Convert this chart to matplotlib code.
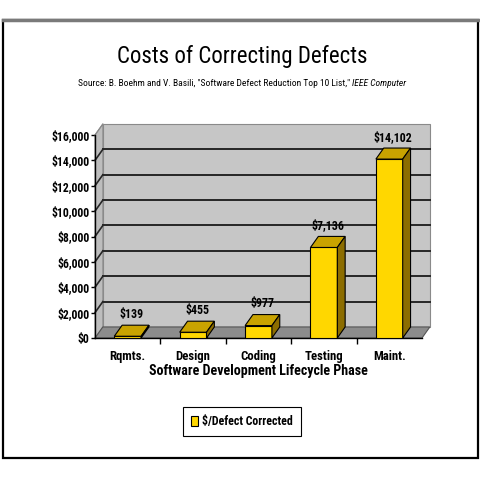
import matplotlib
matplotlib.use('Agg')
import matplotlib.pyplot as plt
from matplotlib import font_manager
from matplotlib.patches import Polygon, Rectangle, Patch
from matplotlib.lines import Line2D

# ---------------- data ----------------
categories = ['Rqmts.', 'Design', 'Coding', 'Testing', 'Maint.']
costs = [139, 455, 977, 7136, 14102]
value_labels = ['$139', '$455', '$977', '$7,136', '$14,102']
y_ticks = [0, 2000, 4000, 6000, 8000, 10000, 12000, 14000, 16000]
y_tick_labels = ['$0', '$2,000', '$4,000', '$6,000', '$8,000', '$10,000',
                 '$12,000', '$14,000', '$16,000']
series_name = '$/Defect Corrected'
title_text = 'Costs of Correcting Defects'
subtitle_plain = 'Source: B. Boehm and V. Basili, "Software Defect Reduction Top 10 List," '
subtitle_italic = 'IEEE Computer'
x_label = 'Software Development Lifecycle Phase'


# ---------------- fonts ----------------
def pick_condensed():
    prefs = ['Liberation Sans Narrow', 'Arial Narrow', 'Roboto Condensed',
             'Open Sans Condensed', 'Noto Sans', 'DejaVu Sans', 'Open Sans',
             'Roboto', 'Inter', 'Lato']
    cands = set()
    for f in font_manager.fontManager.ttflist:
        st = f.stretch
        lname = f.name.lower()
        cond = ('narrow' in lname or 'condensed' in lname or
                st in ('condensed', 'semi-condensed', 'extra-condensed', 'ultra-condensed') or
                (isinstance(st, (int, float)) and st < 500))
        if cond:
            cands.add(f.name)
    for p in prefs:
        if p in cands:
            return p, True
    if cands:
        return sorted(cands)[0], True
    return 'Liberation Sans', False


NARROW, HAS_COND = pick_condensed()
FAM = [NARROW, 'DejaVu Sans']
plt.rcParams['font.family'] = FAM
if HAS_COND:
    plt.rcParams['font.stretch'] = 'condensed'
K = 1.0 if HAS_COND else 0.82   # size factor when no narrow face exists

FRONT = '#FFD700'
TOP = '#C9A300'
SIDE = '#8C6D00'
WALL = '#C6C6C6'
SIDEWALL = '#BDBDBD'
FLOOR = '#8C8C8C'
GRID = '#262626'
DX = 0.12      # depth offset in category units
DY = 870       # depth offset in value units
BAR_W = 0.41

W, H = 480, 480
fig = plt.figure(figsize=(W / 100, H / 100), dpi=100)
fig.patch.set_facecolor('white')

# outer frame
fig.add_artist(Rectangle((3 / W, 1 - 458 / H), 475 / W, 438 / H,
                         transform=fig.transFigure, fill=False,
                         ec='black', lw=1.6))
fig.add_artist(Line2D([3 / W, 478 / W], [1 - 20 / H, 1 - 20 / H],
                      transform=fig.transFigure, color='#7a7a7a', lw=2.5))

ax = fig.add_axes([95 / W, 1 - 338 / H, 327 / W, 203 / H])
ax.set_xlim(-0.5, len(categories) - 0.5)
ax.set_ylim(y_ticks[0], y_ticks[-1])
ax.set_facecolor('none')
x0, x1 = -0.5, len(categories) - 0.5
ytop = y_ticks[-1]

# walls and floor
ax.add_patch(Polygon([(x0 + DX, DY), (x1 + DX, DY), (x1 + DX, ytop + DY), (x0 + DX, ytop + DY)],
                     closed=True, fc=WALL, ec='#8a8a8a', lw=0.8, zorder=0, clip_on=False))
ax.add_patch(Polygon([(x0, 0), (x0 + DX, DY), (x0 + DX, ytop + DY), (x0, ytop)],
                     closed=True, fc=SIDEWALL, ec='#8a8a8a', lw=0.8, zorder=0, clip_on=False))
ax.add_patch(Polygon([(x0, 0), (x1, 0), (x1 + DX, DY), (x0 + DX, DY)],
                     closed=True, fc=FLOOR, ec='#555555', lw=0.8, zorder=1, clip_on=False))
for yv in y_ticks[1:-1]:
    ax.add_line(Line2D([x0 + DX, x1 + DX], [yv + DY, yv + DY], color=GRID, lw=1.4,
                       zorder=2, clip_on=False))
    ax.add_line(Line2D([x0, x0 + DX], [yv, yv + DY], color=GRID, lw=1.2,
                       zorder=2, clip_on=False))
ax.add_line(Line2D([x0, x0 + DX], [ytop, ytop + DY], color='#8a8a8a', lw=0.8,
                   zorder=2, clip_on=False))

# bars
xs = list(range(len(categories)))
ax.bar(xs, costs, width=BAR_W, color=FRONT, edgecolor='black', lw=0.8, zorder=5)
for xi, v, lbl in zip(xs, costs, value_labels):
    l, r = xi - BAR_W / 2, xi + BAR_W / 2
    ax.add_patch(Polygon([(l, v), (r, v), (r + DX, v + DY), (l + DX, v + DY)],
                         closed=True, fc=TOP, ec='black', lw=0.8, zorder=5, clip_on=False))
    ax.add_patch(Polygon([(r, 0), (r + DX, DY), (r + DX, v + DY), (r, v)],
                         closed=True, fc=SIDE, ec='black', lw=0.8, zorder=5, clip_on=False))
    ax.annotate(lbl, (xi + DX / 2, v + DY), xytext=(0, 3), textcoords='offset points',
                ha='center', va='bottom', fontsize=8.6 * K, fontweight='bold',
                color='black', zorder=6, annotation_clip=False)

# axes styling
for s in ('top', 'right'):
    ax.spines[s].set_visible(False)
for s in ('left', 'bottom'):
    ax.spines[s].set_color('black')
    ax.spines[s].set_linewidth(1.0)
    ax.spines[s].set_zorder(3)
ax.set_yticks(y_ticks, y_tick_labels)
ax.tick_params(axis='y', length=3, width=1, pad=1, labelsize=8.5 * K)
for t in ax.get_yticklabels():
    t.set_fontweight('bold')
ax.set_xticks(xs, categories)
ax.set_xticks([i + 0.5 for i in xs[:-1]], minor=True)
ax.tick_params(axis='x', which='major', length=0, pad=8.5, labelsize=9.2 * K)
ax.tick_params(axis='x', which='minor', length=4, width=1)
for t in ax.get_xticklabels():
    t.set_fontweight('bold')
ax.set_xlabel(x_label, fontsize=10.1 * K, fontweight='bold', labelpad=1.0)

# titles
fig.text(242.5 / W, 1 - 57 / H, title_text, ha='center', va='center', fontsize=16.5 * K)
renderer = fig.canvas.get_renderer()
t1 = fig.text(0, 1 - 83 / H, subtitle_plain, ha='left', va='center', fontsize=6.8 * K)
t2 = fig.text(0, 1 - 83 / H, subtitle_italic, ha='left', va='center', fontsize=6.8 * K,
              fontstyle='italic')
w1 = t1.get_window_extent(renderer).width
w2 = t2.get_window_extent(renderer).width
start = 242 - (w1 + w2) / 2
t1.set_x(start / W)
t2.set_x((start + w1) / W)

# legend
leg = fig.legend(handles=[Patch(fc=FRONT, ec='black', lw=0.8, label=series_name)],
                 loc='center', bbox_to_anchor=(242 / W, 1 - 421.5 / H),
                 frameon=True, fancybox=False, edgecolor='black', framealpha=1,
                 handlelength=0.6, handleheight=1.0, handletextpad=0.3,
                 borderpad=0.7, borderaxespad=0,
                 prop={'family': FAM, 'weight': 'bold', 'size': 8.6 * K})
leg.get_frame().set_linewidth(0.8)

fig.savefig('out.png', dpi=100)
